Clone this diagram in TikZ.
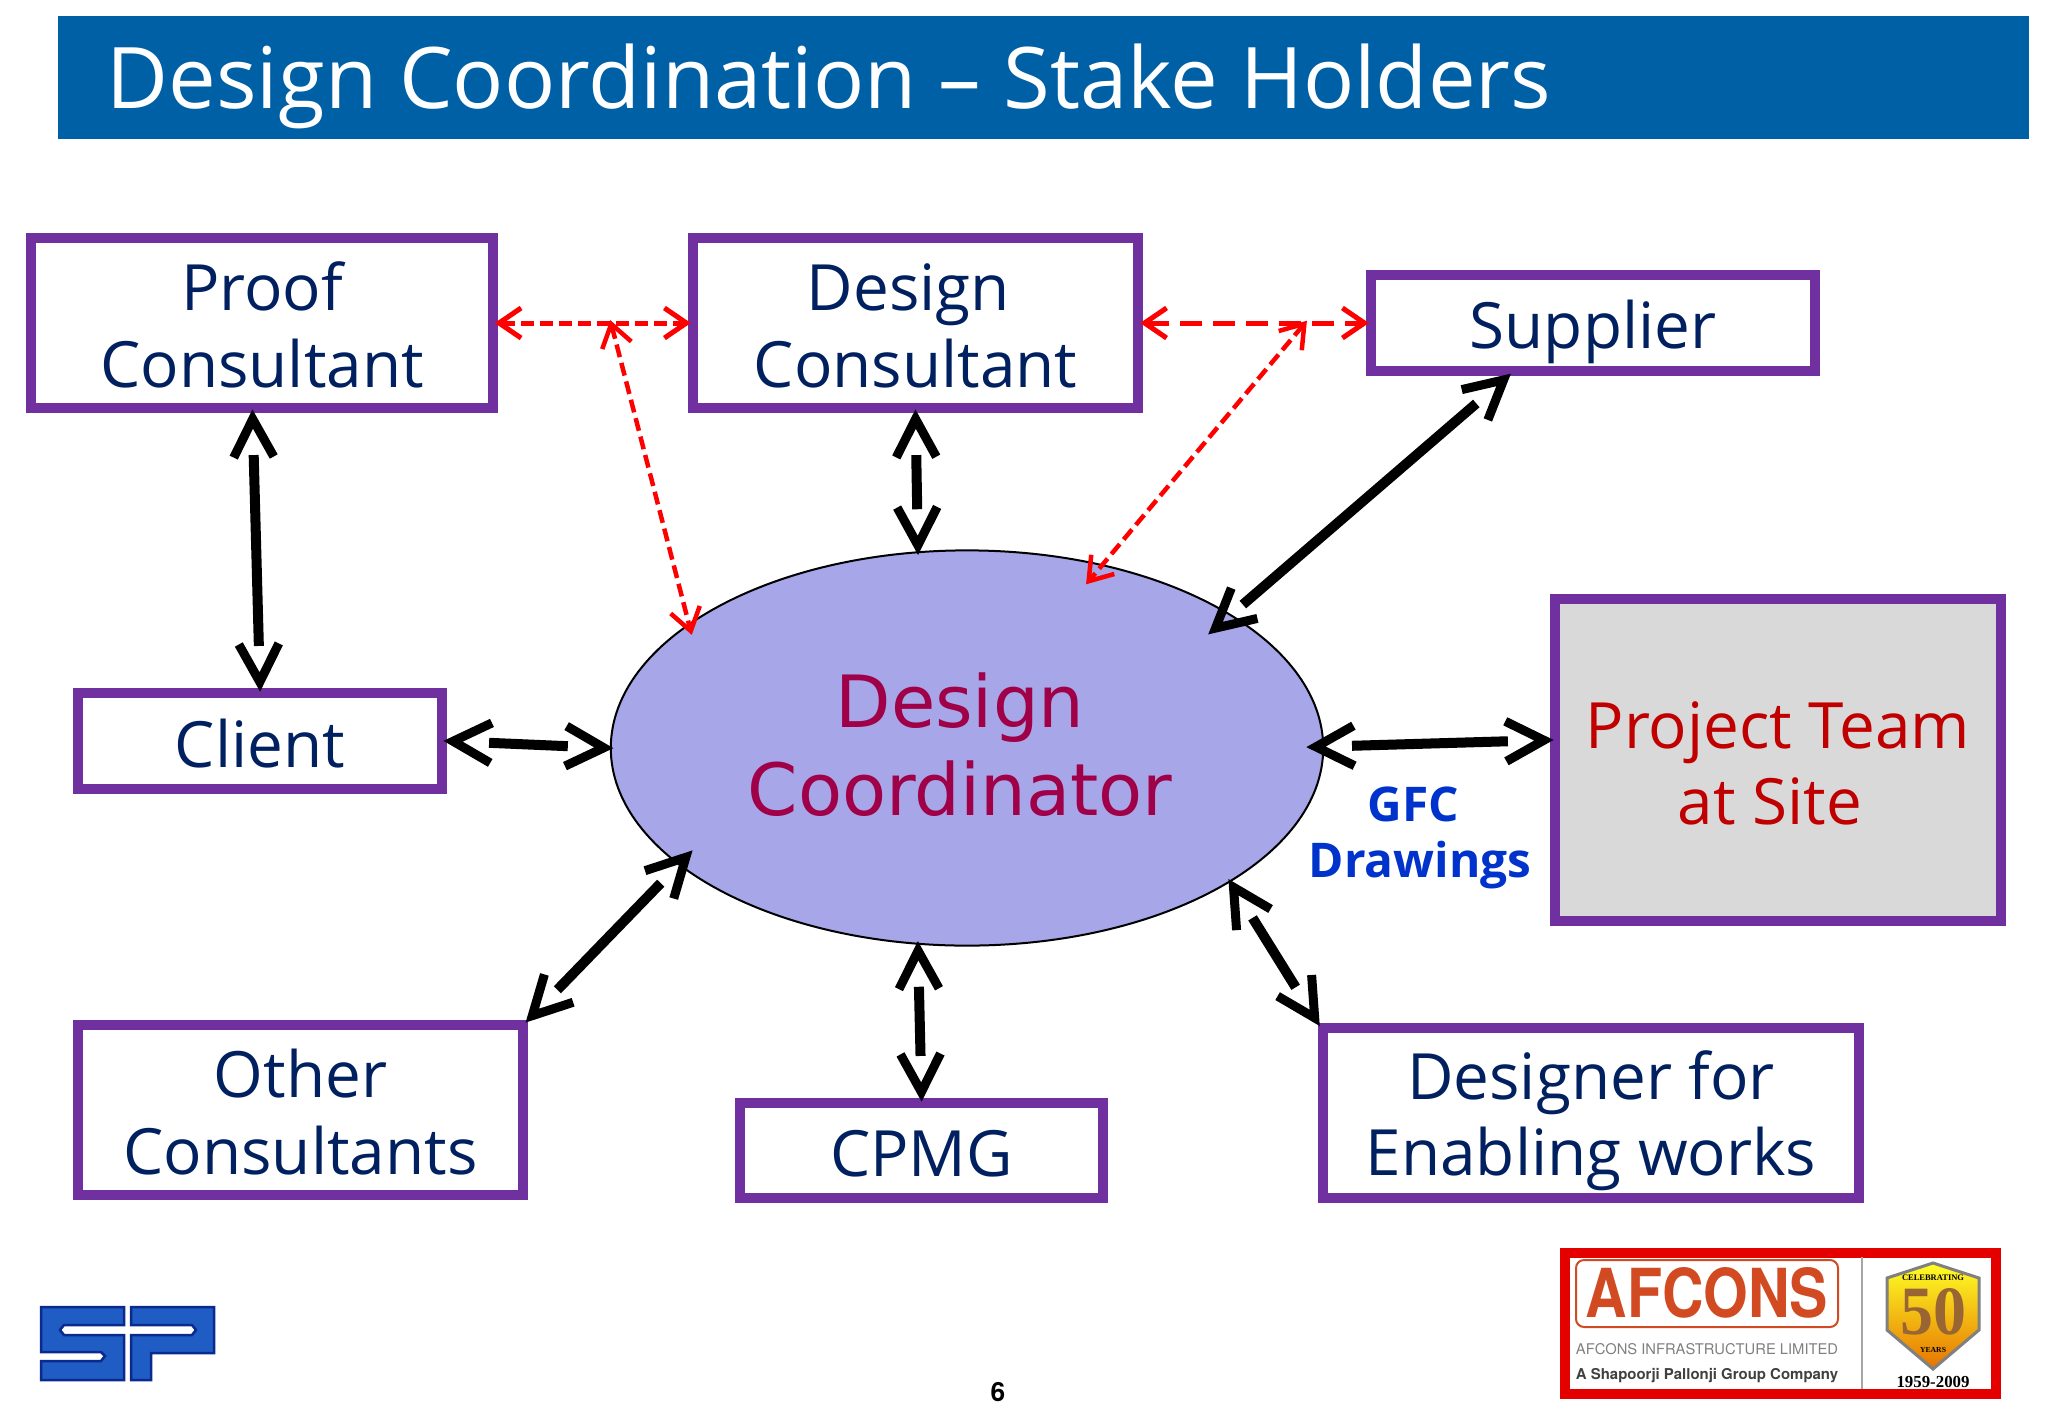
\documentclass[tikz,border=0pt]{standalone}
\usepackage{fontspec}
\setmainfont{Open Sans}
\newfontfamily\ellipsefont{DejaVu Sans}
\newfontfamily\logofont{TeX Gyre Heros}
\newfontfamily\seriffont{Liberation Serif}
\usetikzlibrary{shapes.geometric,arrows.meta,calc}
\definecolor{barblue}{HTML}{0060A6}
\definecolor{boxpurple}{HTML}{7030A0}
\definecolor{boxnavy}{HTML}{002060}
\definecolor{ovalblue}{HTML}{A6A6E8}
\definecolor{ovaltext}{HTML}{A00048}
\definecolor{siteband}{HTML}{D9D9D9}
\definecolor{sitered}{HTML}{C00000}
\definecolor{gfcblue}{HTML}{0033CC}
\definecolor{logoorange}{HTML}{D24A22}
\definecolor{spblue}{HTML}{1F5CC4}
\definecolor{spdark}{HTML}{0A2A90}
\tikzset{
  stakebox/.style={draw=boxpurple, line width=0.1cm, fill=white, align=center, inner sep=0pt,
    text=boxnavy, font=\fontsize{18.15}{21.7}\selectfont},
  textdrop/.style={execute at begin node={\rule{0pt}{#1}}},
  linkshaft/.style={line width=0.1cm, black},
  linkhead/.style={line width=0.09cm, black, line join=miter},
  infoarrow/.style={red, line width=0.045cm, dash pattern=on 0.13cm off 0.06cm, shorten >=-0.03cm, shorten <=-0.03cm,
    {Straight Barb[length=0.22cm,width=0.3cm,line cap=butt,line join=miter]}-{Straight Barb[length=0.22cm,width=0.3cm,line cap=butt,line join=miter]}},
}
% double link with open heads that stand clear of the shaft
\newcommand{\linkbarb}[2]{\draw[linkhead] ($(#1)!0.44cm!(#2)!0.2cm!90:(#2)$) -- ($(#1)!0.06cm!(#2)$) -- ($(#1)!0.44cm!(#2)!0.2cm!-90:(#2)$);}
\newcommand{\linkboth}[2]{
  \draw[linkshaft] ($(#1)!0.42cm!(#2)$) -- ($(#2)!0.42cm!(#1)$);
  \linkbarb{#1}{#2}
  \linkbarb{#2}{#1}
}
\begin{document}
\begin{tikzpicture}[x=0.01cm,y=-0.01cm]
  \useasboundingbox (0,0) rectangle (2048,1418);

  % Title bar
  \node[fill=barblue, minimum width=19.7cm, minimum height=1.23cm, inner sep=0pt] (titlebar) at (1043.5,77.5) {};
  \node[anchor=west, inner sep=0pt, text=white, font=\fontsize{24.18}{28}\selectfont] (titletext) at (106,86) {Design Coordination -- Stake Holders};

  % Stake holders
  \node[stakebox, textdrop=1.29cm, minimum width=4.61cm, minimum height=1.7cm] (proof) at (262,323) {Proof\\Consultant};
  \node[stakebox, textdrop=1.29cm, minimum width=4.45cm, minimum height=1.7cm] (design) at (915.5,323) {Design\kern0.14cm\\Consultant};
  \node[stakebox, textdrop=0.67cm, minimum width=4.44cm, minimum height=0.96cm] (supplier) at (1593,323) {Supplier};
  \node[stakebox, textdrop=0.53cm, minimum width=3.64cm, minimum height=0.96cm] (client) at (260,741) {Client};
  \node[stakebox, textdrop=1.29cm, minimum width=4.45cm, minimum height=1.7cm] (other) at (300.5,1110) {Other\\Consultants};
  \node[stakebox, textdrop=0.53cm, minimum width=3.63cm, minimum height=0.95cm] (cpmg) at (921.5,1150.5) {CPMG};
  \node[stakebox, textdrop=1.41cm, minimum width=5.36cm, minimum height=1.7cm] (enabling) at (1591,1113) {Designer for\\Enabling works};
  \node[stakebox, textdrop=1.30cm, fill=siteband, text=sitered, minimum width=4.46cm, minimum height=3.22cm] (site) at (1778,760) {Project Team\\at Site\kern0.16cm};

  % Coordinator
  \node[ellipse, draw=black, line width=0.02cm, fill=ovalblue, minimum width=7.12cm, minimum height=3.95cm,
    inner sep=0pt, align=center, text=ovaltext, font=\ellipsefont\fontsize{20.5}{24.9}\selectfont,
    execute at begin node={\rule[-0.08cm]{0pt}{0.08cm}}] (coordinator) at (967,748) {Design\kern0.14cm\\Coordinator\kern0.14cm};

  % Label on the site link
  \node[text=gfcblue, align=center, font=\bfseries\fontsize{13.6}{16}\selectfont] (gfc) at (1420,838) {GFC\kern0.13cm\\Drawings};

  % Free ends of the links
  \coordinate (supplierend) at (1211,632);
  \coordinate (siteend) at (1310,747);
  \coordinate (otherend) at (690,853);
  \coordinate (proofjoin) at (611,323);
  \coordinate (supplierjoin) at (1305,323);
  \coordinate (ovalleft) at (691,632);
  \coordinate (ovalright) at (1088,582);

  % Black links
  \linkboth{proof.264}{client.north}
  \linkboth{design.south}{coordinator.104}
  \linkboth{supplier.212}{supplierend}
  \linkboth{client.east}{coordinator.west}
  \linkboth{siteend}{site.175}
  \linkboth{other.north east}{otherend}
  \linkboth{coordinator.256}{cpmg.north}
  \linkboth{coordinator.-27}{enabling.north west}

  % Red links
  \draw[infoarrow, line width=0.05cm] (proof.east) -- (design.west);
  \draw[infoarrow, line width=0.05cm, dash pattern=on 0.22cm off 0.11cm] (design.east) -- (supplier.west);
  \draw[infoarrow] (proofjoin) -- (ovalleft);
  \draw[infoarrow] (supplierjoin) -- (ovalright);

  % SP logo
  \draw[fill=spblue, draw=spdark, line width=0.025cm] (41,1307) -- (124,1307) -- (124,1325) -- (64,1325) -- (60,1330) -- (64,1335) -- (124,1335)
    -- (124,1380) -- (41,1380) -- (41,1361) -- (101,1361) -- (105,1356) -- (101,1352) -- (41,1352) -- cycle;
  \draw[fill=spblue, draw=spdark, line width=0.025cm] (131,1307) -- (214,1307) -- (214,1353) -- (151,1353) -- (151,1380) -- (131,1380)
    -- (131,1335) -- (192,1335) -- (196,1330) -- (192,1325) -- (131,1325) -- cycle;

  % Page number
  \node[font=\logofont\bfseries\fontsize{7.5}{9}\selectfont] (pagenum) at (998,1392) {6};

  % AFCONS logo
  \draw[draw=red!90!black, line width=0.1cm, fill=white] (1565,1253) rectangle (1996,1394);
  \draw[gray!70, line width=0.015cm] (1862,1257) -- (1862,1389);
  \draw[draw=logoorange, line width=0.02cm, rounded corners=0.08cm] (1576,1260) rectangle (1838,1327);
  \node[inner sep=0pt, text=logoorange] (afcons) at (1707,1293) {\resizebox{2.42cm}{0.5cm}{\logofont\bfseries AFCONS}};
  \node[inner sep=0pt, text=gray] (afconsname) at (1707,1349) {\resizebox{2.62cm}{!}{\logofont AFCONS INFRASTRUCTURE LIMITED}};
  \node[inner sep=0pt, text=black!75] (afconsgroup) at (1707,1376) {\resizebox{2.62cm}{!}{\logofont\bfseries A Shapoorji Pallonji Group Company}};

  % Shield
  \draw[draw=gray, line width=0.03cm, top color=yellow!85!white, bottom color=orange!90!black]
    (1933,1263) -- (1979,1278) -- (1979,1330) -- (1933,1369) -- (1887,1330) -- (1887,1278) -- cycle;
  \node[inner sep=0pt] (shieldtop) at (1933,1278) {\resizebox{0.62cm}{!}{\seriffont\bfseries CELEBRATING}};
  \node[inner sep=0pt, text=brown!80!black] (shieldfifty) at (1933,1312) {\resizebox{0.66cm}{0.46cm}{\seriffont\bfseries 50}};
  \node[inner sep=0pt] (shieldyears) at (1933,1350) {\resizebox{0.26cm}{!}{\seriffont\bfseries YEARS}};
  \node[inner sep=0pt] (shieldyear) at (1933,1382) {\resizebox{0.73cm}{!}{\seriffont\bfseries 1959-2009}};
\end{tikzpicture}
\end{document}
